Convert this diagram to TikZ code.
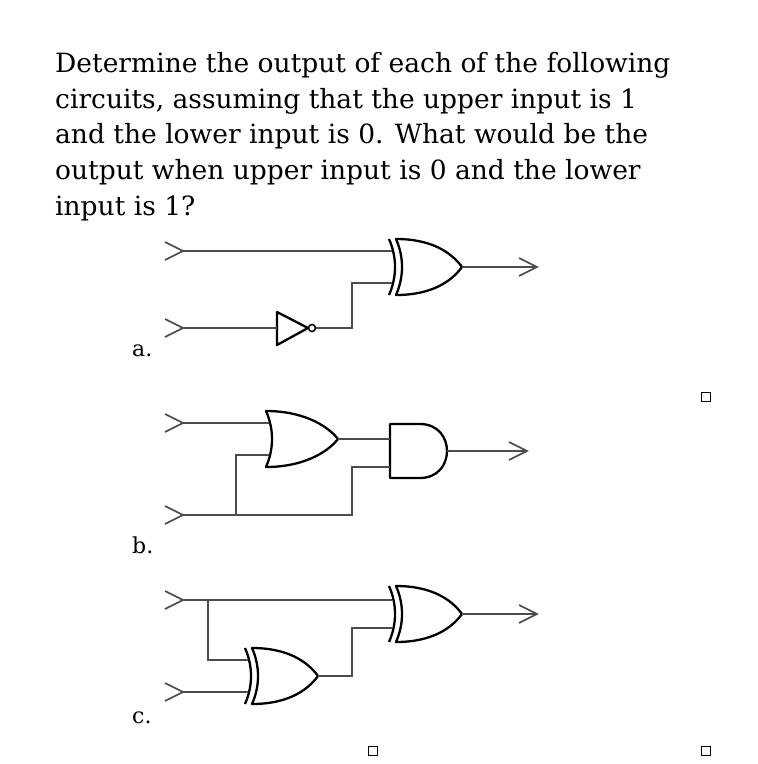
\documentclass[tikz,border=0pt]{standalone}
\usepackage{fontspec}
\setmainfont{DejaVu Serif}
\begin{document}
\begin{tikzpicture}[x=1pt,y=-1pt,
  wire/.style={draw=black!70,line width=1.6pt},
  gatel/.style={draw=black,line width=2.3pt,line join=round},
  txt/.style={anchor=base west,inner sep=0pt,font=\fontsize{26.5}{30}\selectfont},
  lbl/.style={anchor=base west,inner sep=0pt,font=\fontsize{22}{26}\selectfont},
  chk/.style={draw=black,line width=1.5pt,minimum size=9pt,inner sep=0pt},
  pics/org/.style={code={
    \draw[gatel,fill=white] (0,-28) .. controls (8,-10) and (8,10) .. (0,28)
      .. controls (35,28) and (60,15) .. (72,0) .. controls (60,-15) and (35,-28) .. (0,-28) -- cycle;}},
  pics/xorg/.style={code={
    \draw[gatel,fill=white] (0,-28) .. controls (8,-10) and (8,10) .. (0,28)
      .. controls (35,28) and (55,15) .. (66,0) .. controls (55,-15) and (35,-28) .. (0,-28) -- cycle;
    \draw[gatel] (-7,-28) .. controls (1,-10) and (1,10) .. (-7,28);}},
  pics/andg/.style={code={
    \draw[gatel,fill=white] (0,-27) -- (30,-27) .. controls (66,-27) and (66,27) .. (30,27) -- (0,27) -- cycle;}},
  pics/opn/.style={code={\draw[wire] (-18,-9) -- (0,0) -- (-18,9);}}
]
\useasboundingbox (0,0) rectangle (758,764);
\node[txt] (t1) at (55,72) {Determine the output of each of the following};
\node[txt] (t2) at (55,108) {circuits, assuming that the upper input is 1};
\node[txt] (t3) at (55,143) {and the lower input is 0. What would be the};
\node[txt] (t4) at (55,179) {output when upper input is 0 and the lower};
\node[txt] (t5) at (55,215) {input is 1?};
\node[lbl] (la) at (132,356) {a.};
\node[lbl] (lb) at (132,553) {b.};
\node[lbl] (lc) at (132,723) {c.};
\node[chk] (k1) at (706,397) {};
\node[chk] (k2) at (373,751) {};
\node[chk] (k3) at (706,751) {};
% circuit a
\coordinate (a1) at (183,251); \coordinate (a2) at (183,328);
\pic at (a1) {opn}; \pic at (a2) {opn};
\pic at (396,267) {xorg};
\coordinate (ax1) at (392,251); \coordinate (ax2) at (392,283); \coordinate (ao) at (462,267);
\coordinate (aout) at (537,267);
\draw[wire] (a1) -- (ax1);
\draw[gatel,fill=white] (277,312) -- (308,328) -- (277,345) -- cycle;
\node[draw=black,line width=1.5pt,circle,minimum size=7pt,inner sep=0pt] (bub) at (312,328) {};
\coordinate (nin) at (277,328);
\draw[wire] (a2) -- (nin);
\draw[wire] (bub.east) -| (352,283) -- (ax2);
\draw[wire] (ao) -- (aout); \pic at (aout) {opn};
% circuit b
\coordinate (b1) at (183,423); \coordinate (b2) at (183,515);
\pic at (b1) {opn}; \pic at (b2) {opn};
\pic at (266,439) {org};
\pic at (390,451) {andg};
\coordinate (bo1) at (338,439); \coordinate (bo2) at (447,451); \coordinate (bout) at (527,451);
\draw[wire] (b1) -- (269,423);
\draw[wire] (b2) -- (352,515) -- (352,467) -- (390,467);
\draw[wire] (236,515) -- (236,455) -- (269,455);
\draw[wire] (bo1) -- (390,439);
\draw[wire] (bo2) -- (bout); \pic at (bout) {opn};
% circuit c
\coordinate (c1) at (183,600); \coordinate (c2) at (183,692);
\pic at (c1) {opn}; \pic at (c2) {opn};
\pic at (396,614) {xorg};
\pic at (252,676) {xorg};
\coordinate (co) at (462,614); \coordinate (cout) at (537,614);
\draw[wire] (c1) -- (392,600);
\draw[wire] (208,600) -- (208,660) -- (248,660);
\draw[wire] (c2) -- (248,692);
\draw[wire] (318,676) -- (352,676) -- (352,628) -- (392,628);
\draw[wire] (co) -- (cout); \pic at (cout) {opn};
\end{tikzpicture}
\end{document}
